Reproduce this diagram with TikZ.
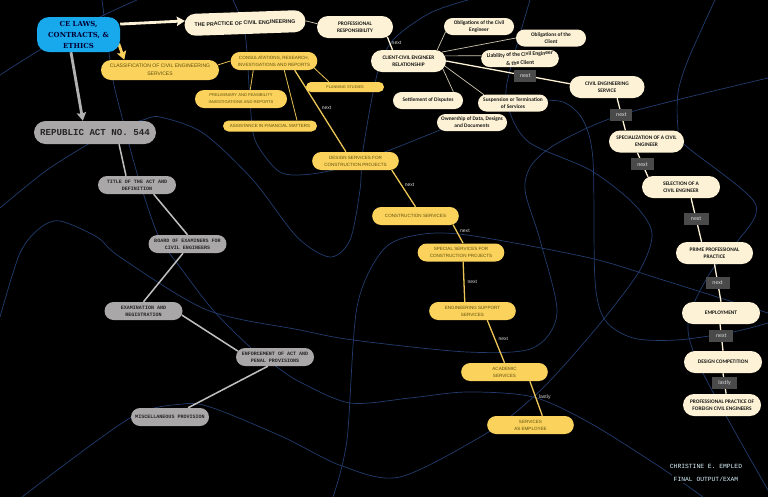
\documentclass[tikz,border=0pt]{standalone}
\usepackage{fontspec}
\usetikzlibrary{shapes.misc, arrows.meta, positioning, backgrounds}
\newfontfamily\headfont{DejaVu Serif}
\newfontfamily\typefont{Liberation Mono}
\newfontfamily\creamfont{Carlito}
\newfontfamily\yellowfont{Liberation Sans}
\definecolor{creamfill}{HTML}{FDF2D5}
\definecolor{creamline}{HTML}{CFC8B0}
\definecolor{yellowfill}{HTML}{FBD35C}
\definecolor{yellowtext}{HTML}{5E4E0E}
\definecolor{grayfill}{HTML}{A9A7A7}
\definecolor{cyanfill}{HTML}{18A8EC}
\definecolor{curveblue}{HTML}{223C6E}
\definecolor{nextfill}{HTML}{4A4A4A}
\tikzstyle{creambox} = [rounded rectangle, minimum width=2.25cm, minimum height=0.66cm, inner sep=0pt, align=center, fill=creamfill, text=black!90, font=\creamfont\bfseries\fontsize{4.6}{6}\selectfont]
\tikzstyle{smallcream} = [creambox, minimum width=2.1cm, minimum height=0.51cm]
\tikzstyle{yellowbox} = [rounded rectangle, minimum width=2.6cm, minimum height=0.54cm, inner sep=0pt, align=center, fill=yellowfill, text=yellowtext, font=\yellowfont\fontsize{3.9}{6}\selectfont]
\tikzstyle{graybox} = [rounded rectangle, minimum width=2.34cm, minimum height=0.54cm, inner sep=0pt, align=center, fill=grayfill, text=black!85, font=\typefont\bfseries\fontsize{4.3}{6}\selectfont]
\tikzstyle{nextbox} = [rectangle, minimum width=0.66cm, minimum height=0.36cm, inner sep=0pt, fill=nextfill, text=white!85!black, font=\creamfont\fontsize{5}{6}\selectfont]
\tikzstyle{tag} = [right, inner sep=2.5pt, text=white!85!black, font=\yellowfont\fontsize{4.3}{5}\selectfont]
\tikzstyle{credit} = [fill=black, inner sep=1.5pt, text=white!85!cyan, font=\typefont\fontsize{5.4}{6}\selectfont]
\tikzstyle{curve} = [curveblue, line width=0.6pt]
\tikzstyle{creamlink} = [creamline, line width=0.6pt]
\tikzstyle{creamthick} = [creamfill, line width=1.1pt]
\tikzstyle{yellowlink} = [yellowfill!90!black, line width=0.7pt]
\tikzstyle{yellowthick} = [yellowfill!95!black, line width=1.1pt]
\tikzstyle{graylink} = [white!75!black, line width=1.3pt]
\tikzstyle{arrow} = [line width=2.4pt,-{Stealth[length=7pt,width=8pt,inset=1pt]}]
\begin{document}
\begin{tikzpicture}[node distance=1cm, on grid]
   \useasboundingbox (0,0) rectangle (23.04,-14.91);
   % main topics
   \node (laws) at (2.355,-1.035) [rectangle, rounded corners=0.36cm, minimum width=2.49cm, minimum height=1.05cm, inner sep=0pt, align=center, fill=cyanfill, text=black!80!blue, font=\headfont\bfseries\fontsize{5.9}{9.4}\selectfont] {CE LAWS,\\CONTRACTS, \&\\ETHICS};
   \node (practice) [creambox, rotate=2, minimum width=3.63cm, font=\yellowfont\bfseries\fontsize{4.5}{6}\selectfont, above right=0.345cm and 4.995cm of laws] {THE PRACTICE OF CIVIL ENGINEERING};
   \node (classes) [yellowbox, minimum width=3.54cm, minimum height=0.6cm, font=\yellowfont\fontsize{4.3}{6.8}\selectfont, below right=1.065cm and 2.445cm of laws] {CLASSIFICATION OF CIVIL ENGINEERING\\SERVICES};
   \node (republic) [graybox, minimum width=3.66cm, minimum height=0.69cm, font=\typefont\bfseries\fontsize{7.8}{9}\selectfont, below right=2.94cm and 0.495cm of laws] {REPUBLIC ACT NO. 544};
   % services
   \node (consult) [yellowbox, above right=0.27cm and 3.42cm of classes] {CONSULATATIONS, RESEARCH,\\INVESTIGATIONS AND REPORTS};
   \node (planning) [yellowbox, minimum width=2.34cm, minimum height=0.3cm, font=\yellowfont\fontsize{3.3}{5}\selectfont, below right=0.78cm and 2.13cm of consult] {PLANNING STUDIES};
   \node (prelim) [yellowbox, minimum width=2.76cm, font=\yellowfont\fontsize{3.5}{6}\selectfont, below left=1.14cm and 0.99cm of consult] {PRELIMINARY AND FEASIBILITY\\INVESTIGATIONS AND REPORTS};
   \node (assist) [yellowbox, minimum width=2.82cm, minimum height=0.33cm, font=\yellowfont\fontsize{3.8}{5}\selectfont, below left=1.95cm and 0.12cm of consult] {ASSISTANCE IN FINANCIAL MATTERS};
   \node (design) [yellowbox, below right=3cm and 2.445cm of consult] {DESIGN SERVICES FOR\\CONSTRUCTION PROJECTS};
   \node (construct) [yellowbox, below right=1.65cm and 1.8cm of design] {CONSTRUCTION SERVICES};
   \node (special) [yellowbox, below right=1.095cm and 1.365cm of construct] {SPECIAL SERVICES FOR\\CONSTRUCTION PROJECTS};
   \node (support) [yellowbox, below right=1.755cm and 0.345cm of special] {ENGINEERING SUPPORT\\SERVICES};
   \node (academic) [yellowbox, below right=1.83cm and 0.96cm of support] {ACADEMIC\\SERVICES};
   \node (employee) [yellowbox, below right=1.59cm and 0.78cm of academic] {SERVICES\\AS EMPLOYEE};
   % responsibility
   \node (prof) [creambox, minimum width=2.28cm, below right=0.12cm and 3.3cm of practice] {PROFESSIONAL\\RESPONSIBILITY};
   \node (client) [creambox, below right=1.02cm and 1.605cm of prof] {CLIENT-CIVIL ENGINEER\\RELATIONSHIP};
   \node (oblicivil) [smallcream, above right=1.035cm and 2.115cm of client] {Obligations of the Civil\\Engineer};
   \node (oblicli) [smallcream, above right=0.69cm and 4.275cm of client] {Obligations of the\\Client};
   \node (liable) [smallcream, above right=0.075cm and 3.345cm of client] {\rotatebox{3}{\shortstack{\fontsize{4.8}{6}\selectfont Liability of the Civil Engineer\\\fontsize{4.8}{6}\selectfont \& the Client}}};
   \node (settle) [smallcream, below right=1.185cm and 0.585cm of client] {Settlement of Disputes};
   \node (suspend) [smallcream, below right=1.26cm and 3.135cm of client] {Suspension or Termination\\of Services};
   \node (owner) [smallcream, below right=1.845cm and 1.905cm of client] {Ownership of Data, Designs\\and Documents};
   \node (civilserv) [creambox, below right=0.78cm and 5.955cm of client] {CIVIL ENGINEERING\\SERVICE};
   \node (speciali) [creambox, below right=1.635cm and 1.185cm of civilserv] {SPECIALIZATION OF A CIVIL\\ENGINEER};
   \node (selection) [creambox, minimum width=2.34cm, below right=1.365cm and 1.035cm of speciali] {SELECTION OF A\\CIVIL ENGINEER};
   \node (prime) [creambox, minimum width=2.31cm, below right=1.98cm and 1.005cm of selection] {PRIME PROFESSIONAL\\PRACTICE};
   \node (employ) [creambox, minimum width=2.34cm, below right=1.8cm and 0.195cm of prime] {EMPLOYMENT};
   \node (compete) [creambox, minimum width=2.34cm, below right=1.47cm and 0.06cm of employ] {DESIGN COMPETITION};
   \node (foreign) [creambox, minimum width=2.34cm, below left=1.29cm and 0.03cm of compete] {PROFESSIONAL PRACTICE OF\\FOREIGN CIVIL ENGINEERS};
   % republic act
   \node (title) [graybox, below right=1.575cm and 1.26cm of republic] {TITLE OF THE ACT AND\\DEFINITION};
   \node (board) [graybox, below right=1.77cm and 1.515cm of title] {BOARD OF EXAMINERS FOR\\CIVIL ENGINEERS};
   \node (exam) [graybox, below left=2.01cm and 1.32cm of board] {EXAMINATION AND\\REGISTRATION};
   \node (enforce) [graybox, below right=1.38cm and 3.945cm of exam] {ENFORCEMENT OF ACT AND\\PENAL PROVISIONS};
   \node (misc) [graybox, below left=1.8cm and 3.15cm of enforce] {MISCELLANEOUS PROVISION};
   \node (student) [credit, below left=1.83cm and 0.48cm of foreign] {CHRISTINE E. EMPLED};
   \node (output) [credit, below=0.39cm of student] {FINAL OUTPUT/EXAM};
   \begin{scope}[on background layer]
      \fill[black] (0,0) rectangle (23.04,-14.91);
      % curves behind the map
      \begin{scope}[x=0.03cm, y=-0.03cm]
         \draw [curve] plot[smooth] coordinates {(102,0) (106,30) (113,80) (122,117) (137,173) (158,235) (180,267) (213,310) (250,347) (277,367) (300,382) (350,403) (410,398) (467,392) (533,397) (590,423) (660,467) (703,497)};
         \draw [curve] plot[smooth] coordinates {(125,125) (143,120) (160,117) (203,133) (253,180) (297,237) (330,257) (350,240) (360,190) (363,150) (377,75) (393,40) (430,13) (468,0)};
         \draw [curve] plot[smooth] coordinates {(0,75) (43,48) (100,17) (137,0)};
         \draw [curve] plot[smooth] coordinates {(0,208) (47,170) (95,140)};
         \draw [curve] plot[smooth] coordinates {(0,317) (20,253) (40,228) (60,221) (97,237) (120,257) (207,310) (300,330) (353,340) (467,352) (533,348) (557,313) (540,240) (525,190) (533,163) (563,140) (627,113) (768,78)};
         \draw [curve] plot[smooth] coordinates {(233,0) (245,33) (250,100) (255,140) (277,170) (297,175) (333,170) (390,150) (445,128)};
         \draw [curve] plot[smooth] coordinates {(530,0) (507,83) (510,113) (530,143) (590,170) (633,203) (652,233) (640,270) (603,320) (560,370) (530,400) (487,433) (400,477) (342,466) (283,437) (213,408) (183,404) (130,418) (22,497)};
         \draw [curve] plot[smooth] coordinates {(530,100) (563,102) (583,120) (593,160) (595,280) (605,320) (633,338) (677,340) (733,332) (768,323)};
         \draw [curve] plot[smooth] coordinates {(715,0) (688,60) (678,93) (678,127) (685,145) (755,203) (737,242) (710,273) (688,323) (703,373) (768,490)};
         \draw [curve] plot[smooth] coordinates {(333,497) (347,440) (357,307) (383,250) (417,235) (467,235) (590,258) (663,280) (768,313)};
      \end{scope}
      % links
      \draw [arrow, creamfill] (laws.14) -- (practice.176);
      \draw [arrow, yellowfill, shorten <=-4pt] (laws.-18) -- (classes.164);
      \draw [arrow, white!70!black] (laws.-113) -- (republic.136);
      \draw [creamlink] (practice.east) -- (prof.175);
      \draw [creamthick] (prof.-17) -- node[tag, inner sep=1pt] (tagprof) {next} (client.145);
      \draw [creamlink] (client.21) -- (oblicivil.-171);
      \draw [creamlink] (client.15) -- (oblicli.west);
      \draw [creamlink] (client.8) -- (liable.176);
      \draw [creamthick] (client.east) -- node[nextbox, pos=0.64] (nextserv) {next} (civilserv.175);
      \draw [creamlink] (client.-13) -- (settle.19);
      \draw [creamlink] (client.-8) -- (suspend.164);
      \draw [creamthick] (civilserv.-48) -- node[nextbox, pos=0.52] (nextspec) {next} (speciali.152);
      \draw [creamthick] (speciali.-129) -- node[nextbox, minimum width=0.7cm, pos=0.48] (nextsel) {next} (selection.163);
      \draw [creamthick] (selection.-48) -- node[nextbox, minimum width=0.75cm, pos=0.48] (nextprime) {next} (prime.139);
      \draw [creamthick] (prime.south) -- node[nextbox, minimum width=0.72cm, pos=0.49] (nextemp) {next} (employ.north);
      \draw [creamthick] (employ.-95) -- node[nextbox, minimum width=0.72cm, pos=0.44] (nextcomp) {next} (compete.north);
      \draw [creamthick] (compete.south) -- node[nextbox, minimum width=0.75cm, pos=0.48] (nextfor) {lastly} (foreign.70);
      \draw [yellowlink] (classes.5) -- (consult.west);
      \draw [yellowlink] (consult.-10) -- (planning.162);
      \draw [yellowlink] (consult.-156) -- (prelim.45);
      \draw [yellowlink] (consult.-42) -- (assist.12);
      \draw [yellowthick] (consult.-24) -- node[tag, pos=0.46] (tagdesign) {next} (design.136);
      \draw [yellowthick] (design.-14) -- node[tag, pos=0.4] (tagcons) {next} (construct.north);
      \draw [yellowthick] (construct.-13) -- node[tag, pos=0.35] (tagspec) {next} (special.77);
      \draw [yellowthick] (special.-77) -- node[tag, pos=0.5] (tagsupp) {next} (support.130);
      \draw [yellowthick] (support.-32) -- node[tag, pos=0.45] (tagacad) {next} (academic.north);
      \draw [yellowthick] (academic.-20) -- node[tag, pos=0.45] (taglast) {lastly} (employee.38);
      \draw [graylink] (republic.-26) -- (title.140);
      \draw [graylink] (title.-29) -- (board.north);
      \draw [graylink] (board.-116) -- (exam.north);
      \draw [graylink] (exam.-6) -- (enforce.171);
      \draw [graylink] (enforce.-128) -- (misc.27);
   \end{scope}
\end{tikzpicture}
\end{document}
